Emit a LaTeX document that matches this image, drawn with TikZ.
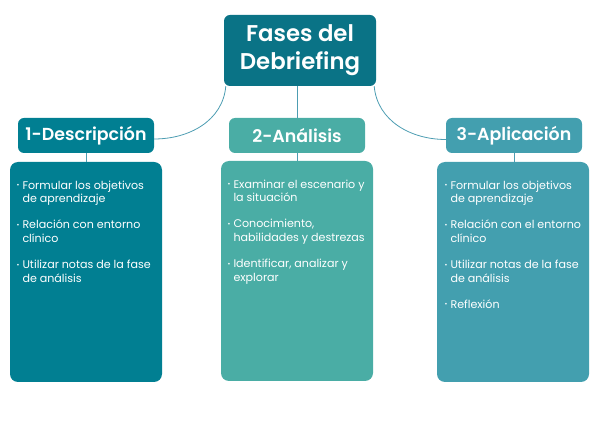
\documentclass[tikz,border=0pt]{standalone}
\usepackage{fontspec}
\setmainfont{Poppins}
\newfontfamily\medfont{Poppins SemiBold}
\usetikzlibrary{positioning}
\definecolor{fasetitle}{HTML}{0A7386}
\definecolor{faseone}{HTML}{017F92}
\definecolor{fasetwo}{HTML}{4AADA5}
\definecolor{fasethree}{HTML}{439FAF}
\definecolor{linkcol}{HTML}{4D9DB2}
\tikzset{
  titlebox/.style={fill=fasetitle, rounded corners=6pt, text=white, align=center,
                   font=\medfont\fontsize{22.8}{28}\selectfont,
                   minimum width=152pt, minimum height=71pt},
  headbox/.style={rounded corners=6pt, text=white, inner sep=0pt,
                  font=\medfont\fontsize{17.4}{18}\selectfont,
                  minimum width=136pt, minimum height=35pt},
  bodybox/.style={rounded corners=8pt, minimum width=152pt, minimum height=220pt},
  itemtxt/.style={text=white, inner sep=0pt, anchor=north west,
                  font=\fontsize{11.1}{13.3}\selectfont},
  link/.style={draw=linkcol, line width=0.8pt},
}
\newcommand{\dotmark}{\makebox[6pt][l]{\raisebox{1.8pt}{\scriptsize\textbullet}}}

\begin{document}
\begin{tikzpicture}[x=1pt, y=-1pt]
\useasboundingbox (0,0) rectangle (600,430);
% title and phases
\node[titlebox] (title) at (300,50.5) {Fases del\\Debriefing};
\node[headbox, fill=faseone]   (h1) at (86,135.5)  {1-Descripción};
\node[headbox, fill=fasetwo]   (h2) at (297,135.5) {2-Análisis};
\node[headbox, fill=fasethree] (h3) at (514,135.5) {3-Aplicación};
% content boxes
\node[bodybox, fill=faseone]   (b1) at (86,272)  {};
\node[bodybox, fill=fasetwo]   (b2) at (297,271) {};
\node[bodybox, fill=fasethree] (b3) at (513,272) {};
\node[itemtxt] (t1) at ([xshift=6.5pt, yshift=-17.7pt]b1.north west) {%
  \begin{tabular}{@{}l@{}l@{}}
  \dotmark & Formular los objetivos\\ & de aprendizaje\\[13.3pt]
  \dotmark & Relación con entorno\\ & clínico\\[13.3pt]
  \dotmark & Utilizar notas de la fase\\ & de análisis
  \end{tabular}};
\node[itemtxt] (t2) at ([xshift=6.5pt, yshift=-17.7pt]b2.north west) {%
  \begin{tabular}{@{}l@{}l@{}}
  \dotmark & Examinar el escenario y\\ & la situación\\[13.3pt]
  \dotmark & Conocimiento,\\ & habilidades y destrezas\\[13.3pt]
  \dotmark & Identificar, analizar y\\ & explorar
  \end{tabular}};
\node[itemtxt] (t3) at ([xshift=7.5pt, yshift=-17.7pt]b3.north west) {%
  \begin{tabular}{@{}l@{}l@{}}
  \dotmark & Formular los objetivos\\ & de aprendizaje\\[13.3pt]
  \dotmark & Relación con el entorno\\ & clínico\\[13.3pt]
  \dotmark & Utilizar notas de la fase\\ & de análisis\\[13.3pt]
  \dotmark & Reflexión
  \end{tabular}};
% connectors
\draw[link] ([xshift=2pt]title.south west) to[out=-95, in=0] ([yshift=-3.5pt]h1.east);
\draw[link] (title.south -| h2.north) -- (h2.north);
\draw[link] ([xshift=-2pt]title.south east) to[out=-85, in=180] ([yshift=-4pt]h3.west);
\draw[link] (h1.south) -- (b1.north -| h1.south);
\draw[link] (h2.south) -- (b2.north -| h2.south);
\draw[link] (h3.south) -- (b3.north -| h3.south);
\end{tikzpicture}
\end{document}
